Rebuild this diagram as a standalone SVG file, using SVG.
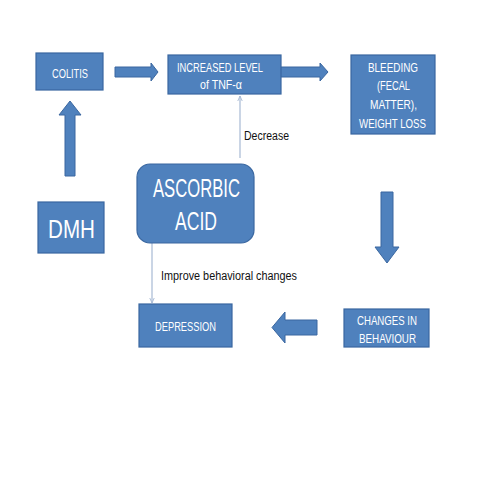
<svg xmlns="http://www.w3.org/2000/svg" width="480" height="480" viewBox="0 0 480 480">
<defs>
<style>
.box{fill:#4F81BD;stroke:#3A67A0;stroke-width:1.2}
.arr{fill:#4F81BD;stroke:#3A67A0;stroke-width:1}
.t{font-family:"Liberation Sans",Arial,sans-serif;fill:#fff;text-anchor:middle}
.lbl{font-family:"Liberation Sans",Arial,sans-serif;fill:#111;font-size:12.5px}
.thin{stroke:#A7B9D4;stroke-width:1.2;fill:none}
</style>
<marker id="ah" viewBox="0 0 10 10" refX="9" refY="5" markerWidth="6" markerHeight="6" orient="auto" markerUnits="userSpaceOnUse">
<path d="M0,1 L9,5 L0,9" fill="none" stroke="#A7B9D4" stroke-width="1.5"/>
</marker>
</defs>
<rect width="480" height="480" fill="#fff"/>
<g id="connectors">
<polygon class="arr" points="115,67 151,67 151,63 158,72 151,81 151,77 115,77"/>
<polygon class="arr" points="279,67 320,67 320,63 328,72 320,81 320,77 279,77"/>
<polygon class="arr" points="65,176 65,115 59,115 70,101 81,115 75,115 75,176"/>
<polygon class="arr" points="381,192 393,192 393,247 399,247 387,263 375,247 381,247"/>
<polygon class="arr" points="317,320 285,320 285,312 272,327.5 285,343 285,335 317,335"/>
<line class="thin" x1="240" y1="158" x2="240" y2="96" marker-end="url(#ah)"/>
<line class="thin" x1="152" y1="243" x2="152" y2="303" marker-end="url(#ah)"/>
<text class="lbl" x="244" y="140" textLength="45" lengthAdjust="spacingAndGlyphs">Decrease</text>
<text class="lbl" x="161" y="280" textLength="136" lengthAdjust="spacingAndGlyphs">Improve behavioral changes</text>
</g>
<g id="colitis">
<rect class="box" x="36" y="53" width="67" height="37"/>
<text class="t" x="70" y="78" font-size="13.5" textLength="36" lengthAdjust="spacingAndGlyphs">COLITIS</text>
</g>
<g id="tnf">
<rect class="box" x="168" y="55" width="113" height="39"/>
<text class="t" x="220" y="72" font-size="13.5" textLength="86" lengthAdjust="spacingAndGlyphs">INCREASED LEVEL</text>
<text class="t" x="221" y="89" font-size="13.5" textLength="42" lengthAdjust="spacingAndGlyphs">of TNF-α</text>
</g>
<g id="bleeding">
<rect class="box" x="351" y="55" width="84" height="79"/>
<text class="t" x="393" y="72" font-size="13.5" textLength="50" lengthAdjust="spacingAndGlyphs">BLEEDING</text>
<text class="t" x="393.5" y="90" font-size="13.5" textLength="33" lengthAdjust="spacingAndGlyphs">(FECAL</text>
<text class="t" x="393.5" y="108.5" font-size="13.5" textLength="47" lengthAdjust="spacingAndGlyphs">MATTER),</text>
<text class="t" x="392.5" y="127.5" font-size="13.5" textLength="67" lengthAdjust="spacingAndGlyphs">WEIGHT LOSS</text>
</g>
<g id="ascorbic">
<rect class="box" x="137" y="164" width="117" height="79" rx="13" ry="13"/>
<text class="t" x="196.5" y="197" font-size="26" textLength="87" lengthAdjust="spacingAndGlyphs">ASCORBIC</text>
<text class="t" x="196" y="230" font-size="26" textLength="42" lengthAdjust="spacingAndGlyphs">ACID</text>
</g>
<g id="dmh">
<rect class="box" x="38" y="202" width="66" height="51"/>
<text class="t" x="71.5" y="238" font-size="25" textLength="47" lengthAdjust="spacingAndGlyphs">DMH</text>
</g>
<g id="depression">
<rect class="box" x="139" y="304" width="93" height="43"/>
<text class="t" x="185.5" y="331" font-size="12.5" textLength="61" lengthAdjust="spacingAndGlyphs">DEPRESSION</text>
</g>
<g id="behaviour">
<rect class="box" x="344" y="309" width="85" height="38"/>
<text class="t" x="387" y="325" font-size="13.5" textLength="60" lengthAdjust="spacingAndGlyphs">CHANGES IN</text>
<text class="t" x="387.5" y="343" font-size="13.5" textLength="57" lengthAdjust="spacingAndGlyphs">BEHAVIOUR</text>
</g>
</svg>
